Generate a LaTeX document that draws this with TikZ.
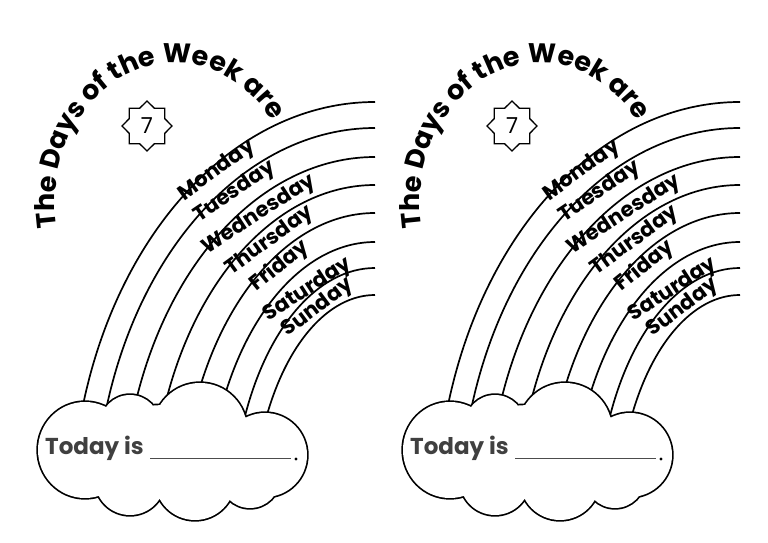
\documentclass[tikz,border=0pt]{standalone}
\usepackage{fontspec}
\setmainfont{Poppins}
\usetikzlibrary{shapes.geometric,decorations.text}
\tikzset{
  arcline/.style={line width=1.7pt},
  day/.style={font=\bfseries\fontsize{21}{21}\selectfont, inner sep=0pt},
  cloudline/.style={line width=1.7pt}
}
\newcommand{\panel}[1]{%
\begin{scope}[xshift=#1]
  \foreach \t/\b in {102/83,128/107,157/135,185/165,213/195,242/222,268/248,295/270}{
    \pgfmathsetmacro\ry{520-\t}
    \pgfmathsetmacro\ph{asin(115/\ry)}
    \pgfmathsetmacro\rx{(375-\b)/cos(\ph)}
    \pgfmathsetmacro\en{180-asin(100/\ry)}
    \draw[arcline] (375,{543-\t}) arc[start angle=90, end angle=\en, x radius=\rx, y radius=\ry];
  }
  \begin{scope}[shift={(8,-8)}]
  \node[day, rotate=36] (mon) at (209,{543-163}) {Monday};
  \node[day, rotate=34] (tue) at (227,{543-184}) {Tuesday};
  \node[day, rotate=33] (wed) at (251,{543-207}) {Wednesday};
  \node[day, rotate=36] (thu) at (262,{543-233}) {Thursday};
  \node[day, rotate=39] (fri) at (272,{543-258}) {Friday};
  \node[day, rotate=33] (sat) at (300,{543-282}) {Saturday};
  \node[day, rotate=37] (sun) at (310,{543-300}) {Sunday};
  \end{scope}
  \path[decorate, decoration={text along path, text align=center,
     text={|\bfseries\fontsize{27}{27}\selectfont|The Days of the Week are}}]
     (175,340) ++(188:{120 and 140}) arc[start angle=188, end angle=38, x radius=120, y radius=140];
  \node[star, star points=8, star point ratio=1.3, draw, line width=1.3pt,
        minimum size=50pt, inner sep=0pt, font=\fontsize{22}{22}\selectfont] (seven) at (147,417) {7};
  % cloud
  \begin{scope}
    \def\cloudshapes{%
      (85,93) ellipse[x radius=47, y radius=48]
      (130,118) circle[radius=30]
      (200,113) circle[radius=47]
      (265,88) circle[radius=42]
      (130,63) circle[radius=35]
      (195,63) circle[radius=40]
      (250,65) circle[radius=30]
      (170,93) ellipse[x radius=110, y radius=45]}
    \draw[line width=3.4pt] \cloudshapes;
    \fill[white] \cloudshapes;
  \end{scope}
  \node[font=\bfseries\fontsize{23}{23}\selectfont, text=black!75, anchor=west, inner sep=0pt] (today) at (45,95) {Today is};
  \coordinate (l1) at (150,85);
  \coordinate (l2) at (291,85);
  \draw[line width=0.9pt, black!70] (l1) -- (l2);
  \fill (296,84) circle[radius=1.6];
\end{scope}}
\begin{document}
\begin{tikzpicture}[x=1pt,y=1pt]
\useasboundingbox (0,0) rectangle (768,543);
\fill[white] (0,0) rectangle (768,543);
\panel{0pt}
\panel{365pt}
\end{tikzpicture}
\end{document}
